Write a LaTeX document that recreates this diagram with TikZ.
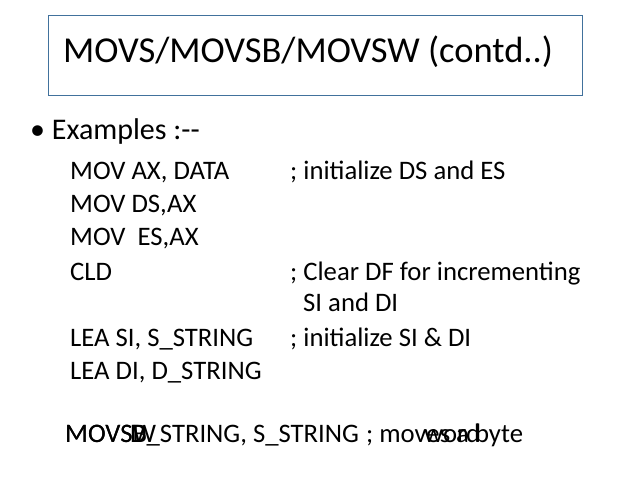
\documentclass[tikz,border=0pt]{standalone}
\usepackage{fontspec}
\setmainfont{Carlito}
\begin{document}
\begin{tikzpicture}[x=1pt,y=-1pt,
 t/.style={anchor=base west,inner sep=0pt,font=\fontsize{26.7}{30}\selectfont},
 ti/.style={anchor=base west,inner sep=0pt,font=\fontsize{36.5}{40}\selectfont}]
\useasboundingbox (0,0) rectangle (638,478);
\node[draw={rgb,255:red,65;green,113;blue,156},line width=1pt,minimum width=534pt,minimum height=80pt,anchor=north west] (box) at (48,15) {};
\node[ti] (title) at (63,63) {MOVS/MOVSB/MOVSW (contd..)};
\node[t,font=\fontsize{30}{34}\selectfont] (ex) at (30,140) {\textbullet\ Examples :{-}{-}};
\node[t] (l1) at (70,180) {MOV AX, DATA};
\node[t] (c1) at (290,180) {; initialize DS and ES};
\node[t] (l2) at (70,213) {MOV DS,AX};
\node[t] (l3) at (70,246) {MOV\ \ ES,AX};
\node[t] (l4) at (70,281) {CLD};
\node[t] (c4) at (290,281) {; Clear DF for incrementing};
\node[t] (c4b) at (303,312) {SI and DI};
\node[t] (l5) at (70,347) {LEA SI, S\_STRING};
\node[t] (c5) at (290,347) {; initialize SI \& DI};
\node[t] (l6) at (70,380) {LEA DI, D\_STRING};
\node[t] (m1) at (65,443) {MOVSB};
\node[t] (m2) at (65,443) {MOVSW};
\node[t] (m3) at (130,443) {D\_STRING, S\_STRING};
\node[t] (m4) at (366,443) {; moves a byte};
\node[t] (m5) at (424,443) {word};
\end{tikzpicture}
\end{document}
